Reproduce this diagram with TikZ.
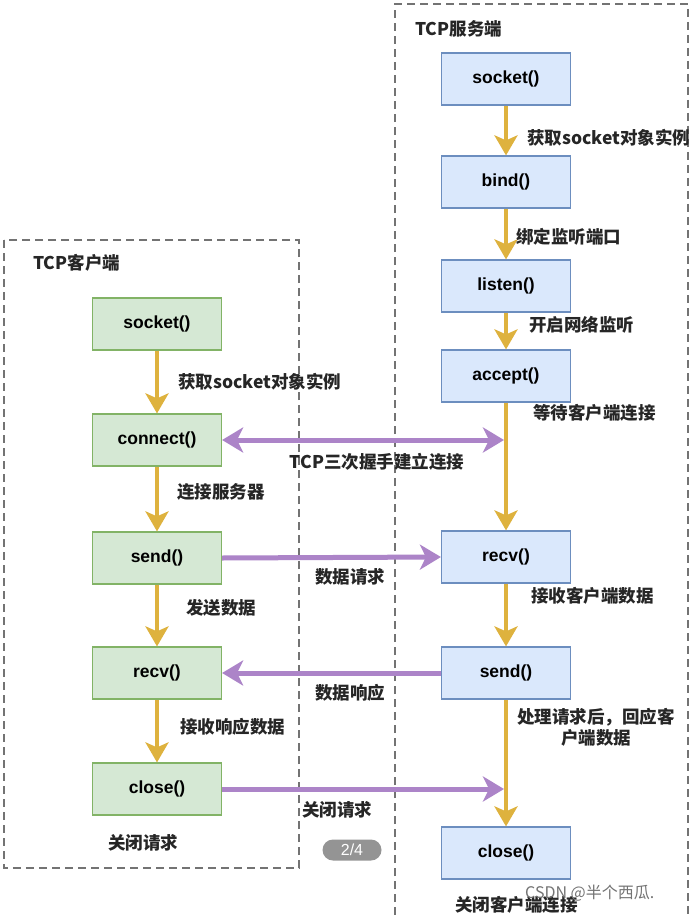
\documentclass[tikz,border=0pt]{standalone}
\usepackage{fontspec}
\setmainfont{Liberation Sans}
\newfontfamily\cjk{Noto Sans CJK SC}
\usetikzlibrary{arrows.meta}
\definecolor{cgreen}{RGB}{213,232,212}
\definecolor{cgreenb}{RGB}{130,179,102}
\definecolor{cblue}{RGB}{218,232,252}
\definecolor{cblueb}{RGB}{108,142,191}
\definecolor{gold}{RGB}{222,178,62}
\definecolor{purp}{RGB}{172,132,200}
\definecolor{dashgray}{RGB}{115,115,115}
\tikzset{
  fnbox/.style={line width=1.2pt, minimum width=129pt, minimum height=52pt, inner sep=0pt,
    font=\bfseries\fontsize{17.5}{18}\selectfont},
  cbox/.style={fnbox, draw=cgreenb, fill=cgreen},
  sbox/.style={fnbox, draw=cblueb, fill=cblue},
  garrow/.style={draw=gold, line width=4pt, -{Stealth[length=20pt,width=23pt,inset=5pt]}},
  parrow/.style={draw=purp, line width=5pt, -{Stealth[length=21pt,width=25pt,inset=6pt]}},
  pdarrow/.style={draw=purp, line width=5pt, {Stealth[length=21pt,width=25pt,inset=6pt]}-{Stealth[length=21pt,width=25pt,inset=6pt]}},
  lbl/.style={font=\cjk\bfseries\fontsize{17.5}{21}\selectfont, text=black!85, inner sep=0pt},
  dashframe/.style={draw=dashgray, dash pattern=on 8pt off 5pt, line width=2.8pt},
}
\begin{document}
\begin{tikzpicture}[x=1pt,y=-1pt]
\useasboundingbox (0,0) rectangle (692,915);
\fill[white] (0,0) rectangle (692,915);
% frames
\draw[dashframe] (4,240) rectangle (299,868);
\draw[dashframe] (395,915) -- (395,4) -- (688,4) -- (688,915);
% titles
\node[lbl, anchor=west] (ct) at (33,263) {TCP客户端};
\node[lbl, anchor=west] (st) at (415,29) {TCP服务端};
% client boxes
\node[cbox] (csock) at (157,324) {socket()};
\node[cbox] (cconn) at (157,440) {connect()};
\node[cbox] (csend) at (157,558) {send()};
\node[cbox] (crecv) at (157,673) {recv()};
\node[cbox] (cclose) at (157,789) {close()};
% server boxes
\node[sbox] (ssock) at (506,79) {socket()};
\node[sbox] (sbind) at (506,182) {bind()};
\node[sbox] (slist) at (506,286) {listen()};
\node[sbox] (sacc) at (506,376) {accept()};
\node[sbox] (srecv) at (506,557) {recv()};
\node[sbox] (ssend) at (506,673) {send()};
\node[sbox] (sclose) at (506,853) {close()};
% client arrows
\draw[garrow] (csock) -- (cconn);
\draw[garrow] (cconn) -- (csend);
\draw[garrow] (csend) -- (crecv);
\draw[garrow] (crecv) -- (cclose);
% server arrows
\draw[garrow] (ssock) -- (sbind);
\draw[garrow] (sbind) -- (slist);
\draw[garrow] (slist) -- (sacc);
\draw[garrow] (sacc) -- (srecv);
\draw[garrow] (srecv) -- (ssend);
\draw[garrow] (ssend) -- (sclose);
% cross arrows
\coordinate (hsR) at (504,440);
\coordinate (clR) at (504,789);
\draw[pdarrow] (cconn.east) -- (hsR);
\draw[parrow] (csend.east) -- (srecv.west);
\draw[parrow] (ssend.west) -- (crecv.east);
\draw[parrow] (cclose.east) -- (clR);
% labels client
\node[lbl, anchor=west] (c1) at (178,382) {获取socket对象实例};
\node[lbl, anchor=west] (c2) at (177,492) {连接服务器};
\node[lbl, anchor=west] (c3) at (186,608) {发送数据};
\node[lbl, anchor=west] (c4) at (180,727) {接收响应数据};
\node[lbl, anchor=west] (c5) at (108,843) {关闭请求};
% labels server
\node[lbl, anchor=west] (s1) at (527,138) {获取socket对象实例};
\node[lbl, anchor=west] (s2) at (516,237) {绑定监听端口};
\node[lbl, anchor=west] (s3) at (529,325) {开启网络监听};
\node[lbl, anchor=west] (s4) at (533,413) {等待客户端连接};
\node[lbl, anchor=west] (s5) at (531,596) {接收客户端数据};
\node[lbl, align=center] (s6) at (596,727) {处理请求后，回应客\\户端数据};
\node[lbl, anchor=west] (s7) at (455,905) {关闭客户端连接};
% middle labels
\node[lbl] (m1) at (377,462) {TCP三次握手建立连接};
\node[lbl] (m2) at (350,577) {数据请求};
\node[lbl] (m3) at (350,693) {数据响应};
\node[lbl, anchor=west] (m4) at (302,810) {关闭请求};
% overlays
\node[fill=black!42, rounded corners=10.5pt, minimum width=59pt, minimum height=21pt, inner sep=0pt,
  text=white, font=\fontsize{16}{16}\selectfont] (pg) at (352,850) {2/4};
\node[anchor=west, inner sep=0pt, text=black!55, font=\cjk\fontsize{16}{16}\selectfont] (wm) at (525,893) {CSDN @半个西瓜.};
\end{tikzpicture}
\end{document}
